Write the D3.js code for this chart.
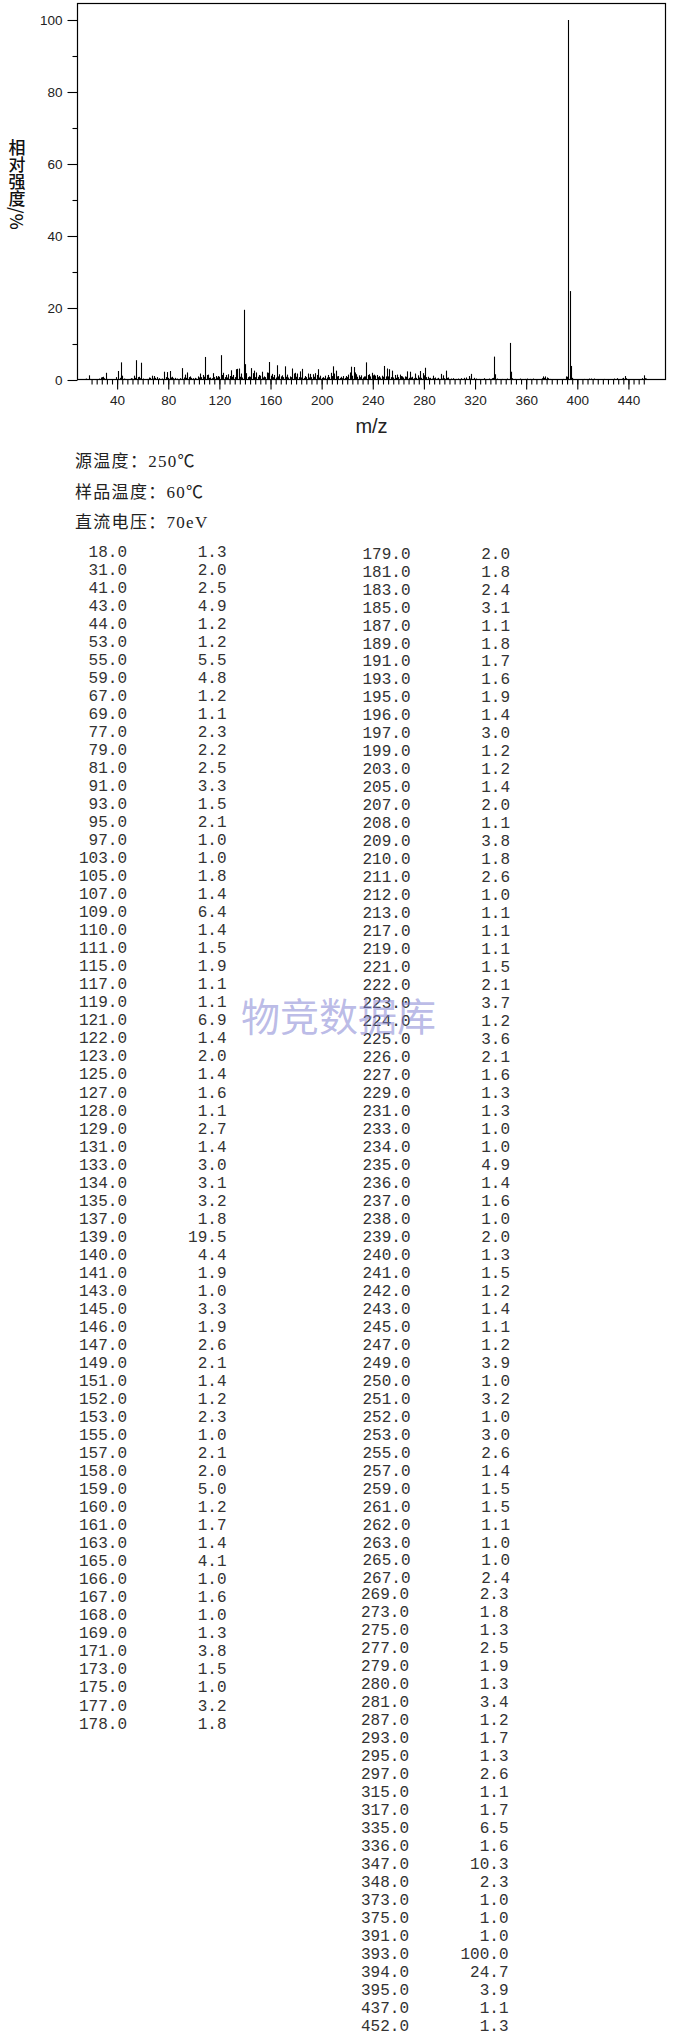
<!DOCTYPE html>
<html><head><meta charset="utf-8">
<script src="https://cdn.jsdelivr.net/npm/d3@7"></script>
<style>
html,body{margin:0;padding:0;background:#fff;}
svg{display:block;}
</style></head>
<body>
<svg id="c" width="680" height="2041"></svg>
<script>
// ---- data (peaks >= 1.0 %, as listed in the table) ----
const peakMz = [18,31,41,43,44,53,55,59,67,69,77,79,81,91,93,95,97,103,105,107,109,110,111,115,117,119,121,122,123,125,127,128,129,131,133,134,135,137,139,140,141,143,145,146,147,149,151,152,153,155,157,158,159,160,161,163,165,166,167,168,169,171,173,175,177,178,
179,181,183,185,187,189,191,193,195,196,197,199,203,205,207,208,209,210,211,212,213,217,219,221,222,223,224,225,226,227,229,231,233,234,235,236,237,238,239,240,241,242,243,245,247,249,250,251,252,253,255,257,259,261,262,263,265,267,
269,273,275,277,279,280,281,287,293,295,297,315,317,335,336,347,348,373,375,391,393,394,395,437,452];
const peakInt = [1.3,2.0,2.5,4.9,1.2,1.2,5.5,4.8,1.2,1.1,2.3,2.2,2.5,3.3,1.5,2.1,1.0,1.0,1.8,1.4,6.4,1.4,1.5,1.9,1.1,1.1,6.9,1.4,2.0,1.4,1.6,1.1,2.7,1.4,3.0,3.1,3.2,1.8,19.5,4.4,1.9,1.0,3.3,1.9,2.6,2.1,1.4,1.2,2.3,1.0,2.1,2.0,5.0,1.2,1.7,1.4,4.1,1.0,1.6,1.0,1.3,3.8,1.5,1.0,3.2,1.8,
2.0,1.8,2.4,3.1,1.1,1.8,1.7,1.6,1.9,1.4,3.0,1.2,1.2,1.4,2.0,1.1,3.8,1.8,2.6,1.0,1.1,1.1,1.1,1.5,2.1,3.7,1.2,3.6,2.1,1.6,1.3,1.3,1.0,1.0,4.9,1.4,1.6,1.0,2.0,1.3,1.5,1.2,1.4,1.1,1.2,3.9,1.0,3.2,1.0,3.0,2.6,1.4,1.5,1.5,1.1,1.0,1.0,2.4,
2.3,1.8,1.3,2.5,1.9,1.3,3.4,1.2,1.7,1.3,2.6,1.1,1.7,6.5,1.6,10.3,2.3,1.0,1.0,1.0,100.0,24.7,3.9,1.1,1.3];
// ---- small peaks (< 1 %) estimated from the plot ----
const minorMz = [15,16,19,26,27,28,29,30,32,39,42,45,46,50,51,52,54,56,57,58,60,63,65,66,68,70,71,73,74,75,78,80,82,83,84,85,86,87,89,90,92,94,96,98,99,101,102,104,106,108,112,113,114,116,118,120,124,126,130,132,136,138,142,144,148,150,154,156,162,164,170,172,174,176,180,182,184,186,188,190,192,194,198,200,201,202,204,206,214,215,216,218,220,228,230,232,244,246,248,254,256,258,260,264,266,268,270,271,272,274,276,278,282,283,284,285,286,288,289,290,291,292,294,296,298,299,301,303,305,307,309,311,313,316,319,321,323,327,331,333,334,337,341,345,349,351,355,359,361,363,365,372,374,376,377,379,389,392,396,397,405,409,411,413,421,429,431,435,436,438,451,453,454];
const minorInt = [0.3,0.4,0.3,0.4,0.7,0.8,0.9,0.5,0.3,0.8,0.6,0.4,0.3,0.3,0.5,0.4,0.6,0.8,0.9,0.5,0.4,0.3,0.7,0.6,0.4,0.6,0.8,0.5,0.3,0.4,0.8,0.6,0.7,0.9,0.5,0.6,0.3,0.4,0.5,0.3,0.7,0.6,0.8,0.6,0.5,0.6,0.4,0.7,0.8,0.9,0.6,0.7,0.5,0.8,0.7,0.9,0.8,0.7,0.9,0.8,0.9,0.7,0.8,0.9,0.8,0.9,0.7,0.8,0.8,0.7,0.8,0.9,0.7,0.8,0.9,0.8,0.7,0.6,0.8,0.7,0.8,0.9,0.7,0.6,0.8,0.5,0.7,0.8,0.6,0.9,0.5,0.6,0.8,0.9,0.8,0.7,0.8,0.7,0.9,0.8,0.7,0.6,0.8,0.7,0.9,0.6,0.7,0.9,0.5,0.6,0.7,0.6,0.8,0.9,0.5,0.6,0.4,0.5,0.7,0.4,0.6,0.3,0.4,0.5,0.6,0.7,0.4,0.5,0.3,0.4,0.5,0.6,0.7,0.4,0.6,0.4,0.3,0.5,0.4,0.5,0.6,0.4,0.3,0.4,0.5,0.3,0.4,0.3,0.4,0.3,0.4,0.5,0.6,0.7,0.5,0.3,0.3,0.9,0.6,0.3,0.3,0.4,0.4,0.4,0.3,0.4,0.5,0.4,0.6,0.5,0.5,0.5,0.4];

const xTickLabels = [40,80,120,160,200,240,280,320,360,400,440];
const yTickLabels = [0,20,40,60,80,100];
const yMinorTicks = [10,30,50,70,90];
const xAxisTitle = "m/z";
const yAxisTitle = "相对强度/%";
const infoLines = ["源温度：250℃", "样品温度：60℃", "直流电压：70eV"];
const watermark = "物竞数据库";

// ---- layout ----
const svg = d3.select("#c");
const xDomain = [9, 469], yTop = 104.6;
const x = d3.scaleLinear().domain(xDomain).range([77.5, 665.5]);
const y = d3.scaleLinear().domain([0, 100]).range([380, 20]);
const labelFont = "'Liberation Sans', Arial, sans-serif";

// frame
svg.append("rect")
  .attr("x", x(xDomain[0])).attr("y", Math.round(y(yTop)) + 0.5)
  .attr("width", x(xDomain[1]) - x(xDomain[0]))
  .attr("height", y(0) - 0.5 - (Math.round(y(yTop)) + 0.5))
  .attr("fill", "none").attr("stroke", "#000").attr("stroke-width", 1.2);

// bars
const allPeaks = peakMz.map((m, i) => ({m, v: peakInt[i]}))
  .concat(minorMz.map((m, i) => ({m, v: minorInt[i]})));
svg.append("g").selectAll("line").data(allPeaks).join("line")
  .attr("x1", d => Math.round(x(d.m)) + 0.5).attr("x2", d => Math.round(x(d.m)) + 0.5)
  .attr("y1", y(0)).attr("y2", d => y(d.v))
  .attr("stroke", "#000").attr("stroke-width", 1.1);

// x axis ticks (below axis)
const xMinor = d3.range(20, 453, 4);
const gx = svg.append("g").attr("transform", `translate(0,${y(0) - 0.5})`);
gx.call(d3.axisBottom(x).tickValues(xMinor).tickSize(5).tickFormat(""))
  .call(g => g.select(".domain").remove());
gx.append("g").call(d3.axisBottom(x).tickValues(xTickLabels).tickSize(10).tickPadding(6).tickFormat(d3.format("d")))
  .call(g => g.select(".domain").remove());
gx.selectAll("line").attr("stroke", "#000").attr("stroke-width", 1.1);
gx.selectAll("text").attr("font-family", labelFont).attr("font-size", 13.5).attr("fill", "#222");

// y axis ticks (left)
const gy = svg.append("g").attr("transform", `translate(${x(xDomain[0])},0)`);
gy.call(d3.axisLeft(y).tickValues(yMinorTicks).tickSize(5).tickFormat(""))
  .call(g => g.select(".domain").remove());
gy.append("g").call(d3.axisLeft(y).tickValues(yTickLabels).tickSize(10).tickPadding(5).tickFormat(d3.format("d")))
  .call(g => g.select(".domain").remove());
gy.selectAll("line").attr("stroke", "#000").attr("stroke-width", 1.1);
gy.selectAll("text").attr("font-family", labelFont).attr("font-size", 13.5).attr("fill", "#222");

// axis titles
svg.append("text").attr("x", (x(xDomain[0]) + x(xDomain[1])) / 2).attr("y", 433)
  .attr("text-anchor", "middle").attr("font-family", labelFont).attr("font-size", 20)
  .attr("fill", "#222").text(xAxisTitle);
svg.append("text").attr("x", 17).attr("y", 139)
  .attr("style", "writing-mode: vertical-rl; text-orientation: mixed;")
  .attr("font-family", "'Noto Sans CJK SC', sans-serif").attr("font-size", 17)
  .attr("font-weight", 500).attr("fill", "#111").text(yAxisTitle);

// info lines
const infoBase = [466.5, 498, 528];
svg.append("g").selectAll("text").data(infoLines).join("text")
  .attr("x", 75).attr("y", (d, i) => infoBase[i])
  .attr("font-family", "'Liberation Serif', 'Noto Sans CJK SC', serif").attr("font-size", 17)
  .attr("letter-spacing", 1.3)
  .attr("fill", "#222").text(d => d);

// table
const fmt = d3.format(".1f");
const tableFont = "'Liberation Mono', 'Courier New', monospace";
const cols = [
  {from: 0, to: 66, mzX: 127, vX: 226.5, y0: 556.6, step: 18.03},
  {from: 66, to: 124, mzX: 410.5, vX: 510, y0: 558.6, step: 17.98},
  {from: 124, to: peakMz.length, mzX: 409, vX: 508.5, y0: 1599.3, step: 18.0}
];
cols.forEach(c => {
  const rows = d3.range(c.from, c.to).map(i => ({m: peakMz[i], v: peakInt[i], r: i - c.from}));
  const g = svg.append("g").attr("font-family", tableFont).attr("font-size", 16).attr("fill", "#333");
  g.selectAll("text.m").data(rows).join("text").attr("class", "m")
    .attr("x", c.mzX).attr("y", d => c.y0 + d.r * c.step).attr("text-anchor", "end").text(d => fmt(d.m));
  g.selectAll("text.v").data(rows).join("text").attr("class", "v")
    .attr("x", c.vX).attr("y", d => c.y0 + d.r * c.step).attr("text-anchor", "end").text(d => fmt(d.v));
});

// watermark
svg.append("text").attr("x", 241).attr("y", 1031)
  .attr("font-family", "'Noto Sans CJK SC', sans-serif").attr("font-size", 39)
  .attr("fill", "rgba(130,130,210,0.55)").text(watermark);
</script>
</body></html>
